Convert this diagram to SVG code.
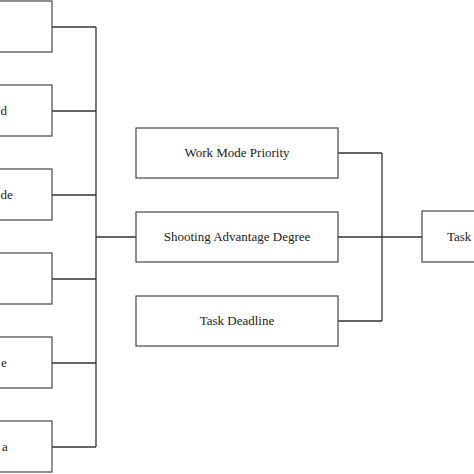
<svg xmlns="http://www.w3.org/2000/svg" width="474" height="474" viewBox="0 0 474 474">
<style>
.box{fill:#fff;stroke:#555;stroke-width:1.3}
.ln{fill:none;stroke:#333;stroke-width:1.3}
text{font-family:"Liberation Serif","Times New Roman",serif;font-size:13px;fill:#222}
.c{text-anchor:middle}
.e{text-anchor:end}
</style>
<rect width="474" height="474" fill="#fff"/>
<g id="connectors">
<path class="ln" d="M52 27H96M52 111H96M52 195H96M52 279H96M52 363H96M52 447H96M96 27V447M96 237H136"/>
<path class="ln" d="M338 153H382M338 237H422M338 321H382M382 153V321"/>
</g>
<g id="n1"><rect class="box" x="-60" y="1" width="112" height="51"/></g>
<g id="n2"><rect class="box" x="-60" y="85" width="112" height="51"/><text x="0.5" y="115">d</text></g>
<g id="n3"><rect class="box" x="-60" y="169" width="112" height="51"/><text x="0.5" y="199">de</text></g>
<g id="n4"><rect class="box" x="-60" y="253" width="112" height="51"/></g>
<g id="n5"><rect class="box" x="-60" y="337" width="112" height="51"/><text x="1" y="367">e</text></g>
<g id="n6"><rect class="box" x="-60" y="421" width="112" height="51"/><text x="2" y="451">a</text></g>
<g id="wmp"><rect class="box" x="136" y="128" width="202" height="50"/><text class="c" x="237" y="157">Work Mode Priority</text></g>
<g id="sad"><rect class="box" x="136" y="212" width="202" height="50"/><text class="c" x="237" y="241">Shooting Advantage Degree</text></g>
<g id="td"><rect class="box" x="136" y="296" width="202" height="50"/><text class="c" x="237" y="325">Task Deadline</text></g>
<g id="task"><rect class="box" x="422" y="211" width="100" height="51"/><text x="447" y="241">Task</text></g>
</svg>
